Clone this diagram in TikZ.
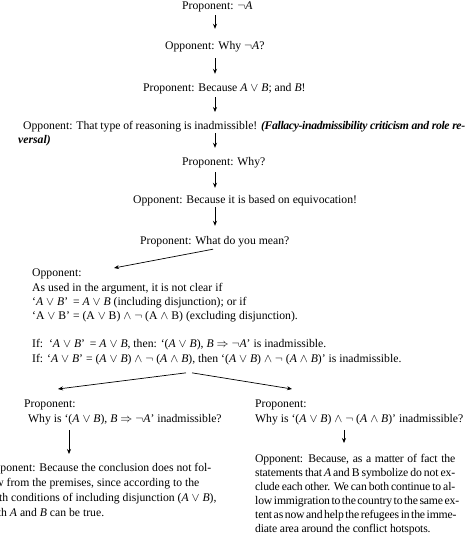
\documentclass[tikz,border=0pt]{standalone}
\usepackage{fontspec}
\setmainfont{Liberation Serif}
\usetikzlibrary{arrows.meta, positioning, calc}
\newcommand{\vA}{\textit{A}}
\newcommand{\vB}{\textit{B}}
\newcommand{\squeeze}{\tolerance=9999\spaceskip=0.25em plus 0.5em minus 0.12em\relax}
\newcommand{\jline}[1]{\makebox[200pt][s]{\squeeze#1}}

\begin{document}
\begin{tikzpicture}[x=1pt, y=1pt,
  every node/.style={font=\fontsize{11.7}{14.2}\selectfont, inner sep=0pt},
  turn/.style={anchor=base west, text height=8pt, text depth=3pt},
  block/.style={anchor=north west, align=left},
  tight/.style={align=justify, text width=#1},
  arr/.style={-{Stealth[length=5pt, width=4pt]}, line width=0.7pt}
]
\useasboundingbox (0,0) rectangle (474,-541);
\coordinate (col)  at (215,0);
\coordinate (colL) at (69,0);
\coordinate (colR) at (344,0);

\node[turn] (p1) at (182,-9)   {Proponent: $\neg$\vA};
\node[turn] (o1) at (165,-49)  {Opponent: Why $\neg$\vA?};
\node[turn] (p2) at (143,-91)  {Proponent: Because \vA{} $\vee$ \vB; and \vB!};
\node[block, tight=447pt] (o2) at (18,-121) {\squeeze\hspace*{5pt}Opponent: That type of reasoning is inadmissible! {\bfseries\itshape\addfontfeature{LetterSpace=-3}(Fallacy-inadmissibility criticism and role re-}\linebreak
  {\bfseries\itshape versal)}};
\node[turn] (p3) at (182,-165) {Proponent: Why?};
\node[turn] (o3) at (133,-203) {Opponent: Because it is based on equivocation!};
\node[turn] (p4) at (140,-244) {Proponent: What do you mean?};
\node[block] (o4) at (32,-269) {Opponent:\\
  As used in the argument, it is not clear if\\
  `\vA{} $\vee$ \vB'\, = \vA{} $\vee$ \vB{} (including disjunction); or if\\
  `A $\vee$ B' = (A $\vee$ B) $\wedge$ $\neg$ (A $\wedge$ B) (excluding disjunction).\\[14.2pt]
  If:\, `\vA{} $\vee$ \vB'\, = \vA{} $\vee$ \vB, then: `(\vA{} $\vee$ \vB), \vB{} $\Rightarrow$ $\neg$\vA' is inadmissible.\\
  If: `\vA{} $\vee$ \vB' = (\vA{} $\vee$ \vB) $\wedge$ $\neg$ (\vA{} $\wedge$ \vB), then `(\vA{} $\vee$ \vB) $\wedge$ $\neg$ (\vA{} $\wedge$ \vB)' is inadmissible.};
\node[block] (pl) at (24,-400) {Proponent:\\
  \hspace*{4pt}Why is `(\vA{} $\vee$ \vB), \vB{} $\Rightarrow$ $\neg$\vA' inadmissible?};
\node[block] (pr) at (255,-400) {Proponent:\\
  Why is `(\vA{} $\vee$ \vB) $\wedge$ $\neg$ (\vA{} $\wedge$ \vB)' inadmissible?};
\node[block, font=\fontsize{11.7}{15}\selectfont] (ol) at (-14,-463) {Opponent: Because the conclusion does not fol-\\
  low from the premises, since according to the\\
  truth conditions of including disjunction (\vA{} $\vee$ \vB),\\
  both \vA{} and \vB{} can be true.};
\node[block, font=\fontsize{11.7}{14}\selectfont\addfontfeature{LetterSpace=-1.5}] (or) at (255,-454) {\jline{Opponent: Because, as a matter of fact the}\\
  \jline{statements that \vA{} and B symbolize do not ex-}\\
  \jline{clude each other. We can both continue to al-}\\
  \jline{low immigration to the country to the same ex-}\\
  \jline{tent as now and help the refugees in the imme-}\\
  diate area around the conflict hotspots.};

\draw[arr, shorten <=3pt, shorten >=12pt] (p1.south -| col) -- (o1.north -| col);
\draw[arr, shorten <=6pt, shorten >=9pt]  (o1.south -| col) -- (p2.north -| col);
\draw[arr, shorten <=3pt, shorten >=9pt]  (p2.south -| col) -- (o2.north -| col);
\draw[arr, shorten <=12pt, shorten >=9pt] (o2.north -| col) -- (p3.north -| col);
\draw[arr, shorten <=4pt, shorten >=7pt]  (p3.south -| col) -- (o3.north -| col);
\draw[arr, shorten <=1pt, shorten >=10pt] (o3.south -| col) -- (p4.north -| col);
\draw[arr] ([xshift=-2pt, yshift=-2pt]p4.south -| col) -- ([xshift=82pt, yshift=1pt]o4.north west);
\draw[arr] ([xshift=154pt, yshift=-8pt]o4.south west) -- ([xshift=34pt, yshift=11pt]pl.north west);
\draw[arr] ([xshift=160pt, yshift=-8pt]o4.south west) -- ([xshift=37pt, yshift=11pt]pr.north west);
\draw[arr, shorten <=5pt, shorten >=9pt]  (pl.south -| colL) -- (ol.north -| colL);
\draw[arr, shorten <=5pt, shorten >=11pt] (pr.south -| colR) -- (or.north -| colR);
\end{tikzpicture}
\end{document}
